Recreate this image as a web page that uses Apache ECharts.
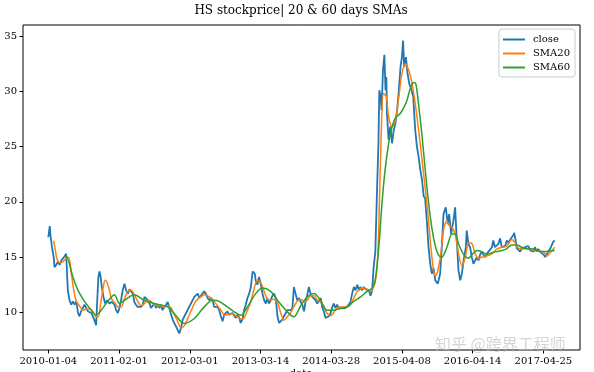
<!DOCTYPE html>
<html><head><meta charset="utf-8">
<script src="https://cdn.jsdelivr.net/npm/echarts@6/dist/echarts.min.js"></script>
<style>html,body{margin:0;padding:0;background:#fff}#c{width:594px;height:372px}</style>
</head><body><div id="c"></div>
<script>
// trading-day index -> close price
const closeDay = [0,5,8,13,19,22,28,34,40,46,52,58,63,67,69,75,81,87,93,99,105,110,116,122,128,134,140,146,152,157,163,169,173,177,181,185,189,195,201,208,216,224,234,240,246,251,257,263,269,275,281,287,293,299,304,310,316,322,328,334,340,346,352,358,363,369,375,381,387,393,398,404,410,416,422,428,434,440,445,451,457,463,469,475,481,487,492,498,504,510,516,522,528,534,539,545,551,557,563,569,575,581,586,592,598,604,610,616,622,628,633,639,645,651,657,663,669,675,680,686,692,698,704,710,716,722,726,730,733,739,745,751,757,763,769,774,780,786,792,798,804,810,816,821,827,833,839,845,851,857,863,868,874,880,886,892,898,904,910,915,921,927,933,939,945,951,957,963,968,974,980,986,992,998,1004,1009,1015,1021,1027,1033,1039,1045,1051,1056,1062,1068,1074,1080,1086,1092,1098,1103,1109,1115,1121,1127,1133,1139,1145,1150,1156,1162,1167,1170,1175,1178,1183,1188,1192,1195,1197,1203,1209,1215,1221,1227,1233,1239,1245,1250,1254,1258,1264,1270,1276,1284,1290,1297,1303,1309,1315,1321,1327,1332,1338,1344,1350,1356,1362,1368,1377,1385,1391,1397,1405,1412,1417,1424,1432,1438,1444,1450,1456,1462,1468,1476,1479,1485,1491,1497,1503,1509,1515,1521,1526,1532,1538,1544,1550,1556,1562,1568,1573,1579,1586,1591,1597,1603,1609,1615,1621,1626,1633,1638,1644,1647,1652,1656,1661,1668,1673,1680,1685,1691,1697,1703,1708,1715,1720,1727,1732,1738,1744,1752,1756,1762,1767,1774,1780,1785,1790];
const closeVal = [16.8,17.8,16.9,15.9,15.0,14.1,14.3,14.6,14.3,14.7,14.9,15.1,15.3,15.2,12.0,11.1,10.7,11.0,10.7,11.0,9.95,9.65,10.1,10.4,10.7,10.4,10.1,10.25,9.95,9.8,9.3,8.85,11.1,13.2,13.7,13.2,12.3,11.4,10.8,11.1,10.8,10.95,10.7,10.2,9.95,10.4,11.1,12.0,12.6,12.0,11.7,12.1,12.0,11.7,10.95,10.7,10.5,10.4,10.5,10.7,11.4,11.5,11.1,10.8,10.4,10.5,10.8,10.4,10.7,10.4,10.7,10.2,10.5,10.7,10.95,10.4,9.8,9.35,9.05,8.75,8.6,8.1,8.6,9.35,9.5,9.95,10.1,10.5,10.8,10.95,11.4,11.3,11.7,11.3,11.5,11.7,11.9,11.7,11.3,11.1,11.3,11.1,10.5,10.4,10.5,10.2,9.65,9.2,9.8,9.95,10.1,9.8,9.65,9.95,9.8,9.5,9.8,9.5,9.05,9.35,10.2,10.7,11.3,11.7,12.3,13.7,13.8,13.5,12.9,12.5,13.2,12.6,11.7,11.1,10.8,11.3,10.8,11.1,11.5,11.7,11.3,9.65,9.05,8.9,9.35,9.65,9.8,10.2,10.1,10.2,10.4,12.3,11.7,11.1,11.3,10.95,10.7,10.1,11.1,11.5,12.3,11.7,11.4,11.5,11.1,10.8,10.95,11.3,10.5,10.1,9.5,9.35,9.65,9.95,10.5,10.8,10.4,10.7,10.4,10.5,10.4,10.5,10.4,10.5,10.7,10.95,11.7,12.3,12.0,12.5,12.0,12.3,12.0,12.3,12.1,12.0,12.0,11.5,12.0,14.1,15.5,21.1,25.3,30.1,29.5,28.3,31.9,33.3,30.1,31.3,28.0,25.6,26.8,25.3,26.5,27.1,28.3,30.1,32.2,33.1,34.6,32.2,33.1,31.6,30.7,30.1,29.5,26.5,25.0,24.1,22.9,22.0,20.5,20.3,18.3,15.9,14.4,13.5,14.0,12.9,12.6,13.5,15.9,18.9,19.5,18.0,18.9,17.1,18.3,19.5,16.5,13.8,12.9,13.5,14.7,15.9,17.4,16.2,15.9,15.0,14.4,14.7,15.0,14.7,15.2,15.5,15.2,15.0,15.3,15.5,15.6,15.9,16.5,15.9,15.9,16.2,16.7,15.9,16.0,16.0,16.5,16.3,16.6,16.7,17.0,17.2,16.5,15.8,15.9,15.5,15.75,15.9,15.9,15.9,16.0,15.6,15.75,15.5,15.9,15.5,15.75,15.5,15.6,15.2,15.0,15.1,15.5,15.75,15.9,16.4,16.5];

const sma20Day = [19,25,31,40,52,63,72,81,90,99,110,122,134,146,157,169,177,185,195,201,208,216,224,234,246,257,269,281,293,304,316,328,340,352,363,375,387,398,410,422,434,445,457,469,481,492,504,516,528,539,551,563,575,586,598,610,622,633,645,657,669,680,692,704,716,726,739,751,763,774,786,798,810,821,833,845,857,868,880,892,904,915,927,939,951,963,974,986,998,1009,1021,1033,1045,1056,1068,1080,1092,1103,1115,1127,1139,1150,1156,1162,1168,1176,1185,1195,1203,1215,1227,1239,1250,1262,1274,1286,1297,1309,1321,1333,1344,1350,1356,1362,1368,1374,1386,1398,1409,1415,1427,1439,1451,1462,1474,1486,1498,1509,1521,1533,1550,1568,1586,1603,1621,1638,1650,1662,1680,1697,1715,1732,1750,1762,1774,1790];
const sma20Val = [16.5,15.6,14.8,14.5,14.6,14.9,15.0,13.6,12.0,11.0,10.6,10.2,10.3,10.3,10.1,9.6,9.6,10.8,12.4,12.9,12.7,12.0,11.2,10.9,10.5,10.5,11.2,11.9,12.0,11.6,11.0,10.6,10.8,11.1,11.0,10.7,10.6,10.6,10.5,10.6,10.4,9.8,9.2,8.6,8.8,9.4,10.1,10.8,11.2,11.4,11.6,11.5,11.3,11.0,10.6,10.2,9.8,9.8,9.9,9.8,9.6,9.4,9.5,10.2,11.0,12.0,12.9,12.7,11.9,11.2,11.1,11.2,10.9,10.0,9.3,9.6,10.0,10.5,11.0,11.2,11.0,11.1,11.5,11.5,11.1,10.9,10.5,9.9,9.7,10.0,10.4,10.5,10.5,10.5,10.7,11.3,11.9,12.1,12.2,12.1,11.9,12.3,12.8,14.0,17.4,25.5,29.8,29.5,27.7,26.8,27.4,29.5,31.6,32.5,31.9,30.7,28.9,26.5,23.8,21.1,18.3,16.5,15.0,13.8,13.3,13.5,15.0,17.6,18.3,17.9,17.7,17.0,15.2,14.2,15.0,16.3,16.2,15.3,14.85,15.0,15.1,15.3,15.75,15.9,16.0,16.6,16.3,15.8,15.75,15.75,15.6,15.55,15.5,15.1,15.4,15.9];

const sma60Day = [59,63,87,105,128,146,169,187,210,234,251,269,304,339,375,422,445,480,516,551,581,604,633,657,680,704,733,757,786,810,845,868,892,915,939,962,986,1009,1033,1056,1080,1103,1127,1145,1156,1168,1180,1191,1203,1215,1227,1244,1256,1268,1280,1291,1299,1309,1321,1332,1344,1356,1368,1379,1391,1409,1427,1438,1450,1467,1485,1497,1515,1532,1550,1568,1585,1603,1620,1638,1656,1673,1691,1709,1726,1744,1761,1773,1790];
const sma60Val = [15.0,15.1,13.2,12.0,11.0,10.4,9.75,10.2,11.0,11.6,10.8,11.1,11.6,11.1,10.8,10.5,9.9,9.0,9.45,10.5,11.1,11.0,10.5,10.05,9.75,10.5,11.7,12.2,11.9,11.1,10.05,9.6,10.6,11.4,11.7,11.1,10.2,10.2,10.35,10.5,11.0,11.4,11.9,12.2,13.0,15.8,20.0,23.0,25.3,26.8,27.6,28.0,28.5,29.2,30.3,30.8,30.7,28.8,26.0,23.0,20.0,17.6,16.0,15.2,15.0,15.9,17.1,17.1,16.2,15.3,14.9,15.2,15.6,15.5,15.25,15.4,15.5,15.6,15.75,16.1,16.1,15.9,15.75,15.75,15.6,15.5,15.5,15.55,15.6];

const tickDays = [0,250,500,750,1000,1250,1500,1750];
const tickLabels = ['2010-01-04','2011-02-01','2012-03-01','2013-03-14','2014-03-28','2015-04-08','2016-04-14','2017-04-25'];
const yTicks = [10,15,20,25,30,35];

const FONT = 'DejaVu Serif';
const pairs = (d, v) => d.map((x, i) => [x, v[i]]);
const chart = echarts.init(document.getElementById('c'), null, {renderer: 'canvas'});
chart.setOption({
  animation: false,
  backgroundColor: '#fff',
  title: {
    text: 'HS stockprice| 20 & 60 days SMAs',
    left: 301, top: 5, padding: 0, textAlign: 'center',
    textStyle: {fontFamily: FONT, fontSize: 12, fontWeight: 'normal', color: '#000'}
  },
  legend: {
    orient: 'vertical', right: 19, top: 29,
    padding: [5, 5, 4, 4], itemGap: 3,
    itemWidth: 22, itemHeight: 2, icon: 'rect',
    borderColor: '#cccccc', borderWidth: 1, borderRadius: 3,
    backgroundColor: 'rgba(255,255,255,0.8)',
    textStyle: {fontFamily: FONT, fontSize: 10, color: '#000', padding: [0, 0, 0, 3], lineHeight: 11},
    data: ['close', 'SMA20', 'SMA60']
  },
  grid: {left: 23, right: 14, top: 25, bottom: 22, containLabel: false, outerBoundsMode: 'none',
    show: true, borderColor: '#000', borderWidth: 1, backgroundColor: 'transparent'},
  xAxis: {
    type: 'value', min: -89.5, max: 1879.5,
    axisLine: {show: false, onZero: false},
    splitLine: {show: false},
    axisTick: {show: true, length: 3.5, inside: false, customValues: tickDays, lineStyle: {color: '#000', width: 1}},
    axisLabel: {customValues: tickDays, margin: 6, fontFamily: FONT, fontSize: 10, color: '#000',
      formatter: v => tickLabels[tickDays.indexOf(v)] || ''}
  },
  yAxis: {
    type: 'value', min: 6.6, max: 36.0,
    axisLine: {show: false, onZero: false},
    splitLine: {show: false},
    axisTick: {show: true, length: 3.5, inside: false, customValues: yTicks, lineStyle: {color: '#000', width: 1}},
    axisLabel: {customValues: yTicks, margin: 6, fontFamily: FONT, fontSize: 10, color: '#000'}
  },
  graphic: [{
    type: 'text', left: 435, top: 336, z: 100,
    style: {text: '知乎 @跨界工程师', font: '16px "Noto Sans CJK SC"', fill: 'rgba(185,185,185,0.6)'}
  }, {
    type: 'text', x: 301, y: 368, z: 100,
    style: {text: 'date', font: '10px "DejaVu Serif"', fill: '#000', align: 'center', verticalAlign: 'top'}
  }],
  series: [
    {name: 'close', type: 'line', data: pairs(closeDay, closeVal), showSymbol: false, symbol: 'none',
      color: '#1f77b4', lineStyle: {width: 1.8, color: '#1f77b4'}},
    {name: 'SMA20', type: 'line', data: pairs(sma20Day, sma20Val), showSymbol: false, symbol: 'none', smooth: 0.3,
      color: '#ff7f0e', lineStyle: {width: 1.5, color: '#ff7f0e'}},
    {name: 'SMA60', type: 'line', data: pairs(sma60Day, sma60Val), showSymbol: false, symbol: 'none', smooth: 0.3,
      color: '#2ca02c', lineStyle: {width: 1.5, color: '#2ca02c'}}
  ]
});
</script></body></html>
